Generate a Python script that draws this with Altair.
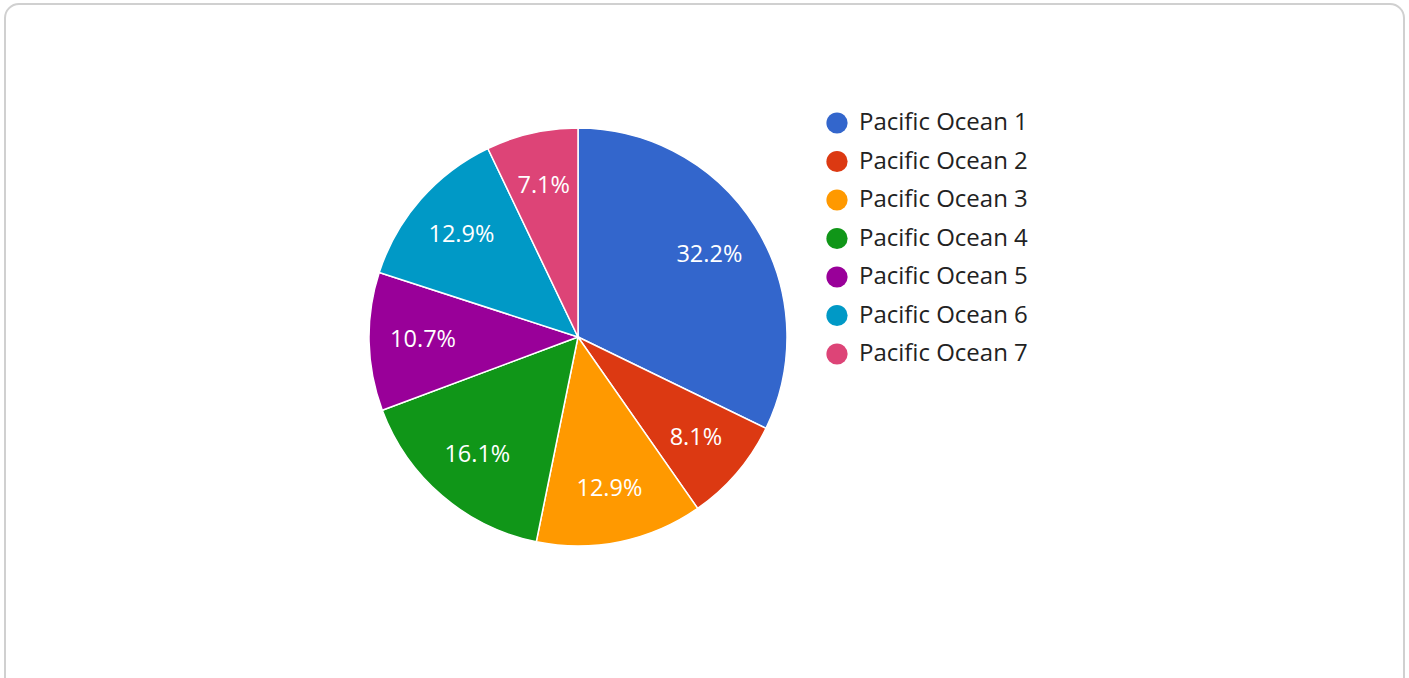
import altair as alt
import pandas as pd

categories = ["Pacific Ocean 1", "Pacific Ocean 2", "Pacific Ocean 3", "Pacific Ocean 4",
              "Pacific Ocean 5", "Pacific Ocean 6", "Pacific Ocean 7"]
values = [32.2, 8.1, 12.9, 16.1, 10.7, 12.9, 7.1]
labels = ["32.2%", "8.1%", "12.9%", "16.1%", "10.7%", "12.9%", "7.1%"]
colors = ["#3366cc", "#dc3912", "#ff9900", "#109618", "#990099", "#0099c6", "#dd4477"]

df = pd.DataFrame({
    "category": categories,
    "value": values,
    "label": labels,
    "order": list(range(len(categories))),
})

FONT = "Open Sans"
CX, CY, R = 578, 337, 209

color = alt.Color(
    "category:N",
    scale=alt.Scale(domain=categories, range=colors),
    legend=alt.Legend(
        title=None,
        orient="none",
        legendX=825,
        legendY=111,
        symbolType="circle",
        symbolSize=450,
        symbolStrokeWidth=0,
        labelFont=FONT,
        labelFontSize=24,
        labelColor="#222222",
        labelOffset=10,
        rowPadding=14.5,
        padding=0,
        labelLimit=400,
    ),
)

base = alt.Chart(df)

pie = base.mark_arc(radius=R, stroke="white", strokeWidth=1.5).encode(
    theta=alt.Theta("value:Q", stack=True),
    color=color,
    order=alt.Order("order:Q", sort="ascending"),
    x=alt.value(CX),
    y=alt.value(CY),
)

text = base.mark_text(radius=155, font=FONT, fontSize=23.5, color="white").encode(
    theta=alt.Theta("value:Q", stack=True),
    order=alt.Order("order:Q", sort="ascending"),
    text="label:N",
    x=alt.value(CX),
    y=alt.value(CY),
)

border = alt.Chart(pd.DataFrame({"a": [0]})).mark_rect(
    fill="white", stroke="#d0d0d0", strokeWidth=2, cornerRadius=14
).encode(
    x=alt.value(5), x2=alt.value(1404), y=alt.value(4), y2=alt.value(700)
)

chart = alt.layer(border, pie, text).properties(
    width=1409,
    height=678,
    padding=0,
    autosize=alt.AutoSizeParams(type="none"),
    background="white",
).configure_view(stroke=None)

chart.save("out.html", embed_options={"renderer": "svg", "actions": False})
